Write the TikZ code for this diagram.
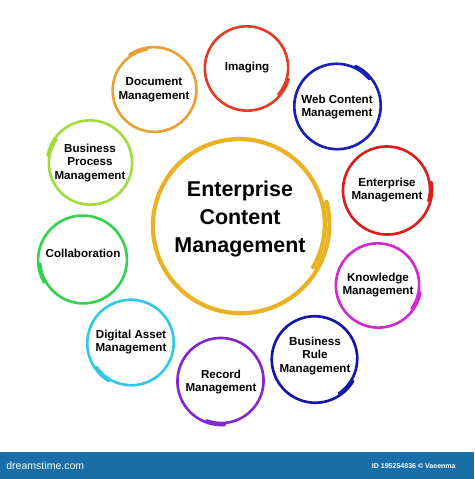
\documentclass[tikz,border=0pt]{standalone}
\usepackage{fontspec}
\setmainfont{Liberation Sans}
\usepackage{tikz}

\definecolor{ecmgold}{RGB}{234,178,34}
\definecolor{imgred}{RGB}{226,60,40}
\definecolor{docorange}{RGB}{234,160,50}
\definecolor{webblue}{RGB}{25,30,180}
\definecolor{bpgreen}{RGB}{160,220,60}
\definecolor{entred}{RGB}{218,30,30}
\definecolor{colgreen}{RGB}{50,210,80}
\definecolor{knowmag}{RGB}{210,40,210}
\definecolor{dacyan}{RGB}{50,200,225}
\definecolor{recpurple}{RGB}{130,40,210}
\definecolor{brblue}{RGB}{20,20,170}
\definecolor{barblue}{RGB}{25,110,168}

\tikzset{
  topic/.style={align=center, inner sep=0pt, font=\bfseries\fontsize{6.6}{7.9}\selectfont},
  maintopic/.style={align=center, inner sep=0pt, font=\bfseries\fontsize{12.2}{16.2}\selectfont},
  ringline/.style={line width=1.5pt, line cap=round},
}

% brush ring round a node: centre, radius, colour, start angle
\newcommand{\brushring}[4]{%
  \pgfmathsetmacro\ringend{#4+385}
  \draw[ringline, #3, shift={(#1)}] plot[domain=#4:\ringend, samples=90, smooth]
    (\x:{#2*(0.975+0.05*(\x-(#4))/385)});
}

\begin{document}
\begin{tikzpicture}[x=0.02cm, y=0.02cm]
  \useasboundingbox (0,0) rectangle (474,479);

  \node[maintopic] at (240,260) (ecm) {Enterprise\\Content\\Management};
  \node[topic] at (247,411) (img) {Imaging};
  \node[topic] at (154,389) (doc) {Document\\Management};
  \node[topic] at (337,372) (web) {Web Content\\Management};
  \node[topic] at (90,316) (bpm) {Business\\Process\\Management};
  \node[topic] at (387,289) (ent) {Enterprise\\Management};
  \node[topic] at (83,226) (col) {Collaboration};
  \node[topic] at (378,194) (know) {Knowledge\\Management};
  \node[topic] at (131,137) (dam) {Digital Asset\\Management};
  \node[topic] at (221,97) (rec) {Record\\Management};
  \node[topic] at (315,123) (rule) {Business\\Rule\\Management};

  \draw[line width=2.4pt, line cap=round, ecmgold, shift={(240,254)}]
    plot[domain=-30:375, samples=120, smooth] (\x:{87*(0.97+0.06*(\x+30)/405)});
  \brushring{247,411}{42}{imgred}{-40}
  \brushring{154,389}{42}{docorange}{100}
  \brushring{337,373}{43}{webblue}{40}
  \brushring{90,316}{42}{bpgreen}{145}
  \brushring{387,289}{44}{entred}{-15}
  \brushring{83,219}{44}{colgreen}{185}
  \brushring{378,194}{42}{knowmag}{-35}
  \brushring{131,136}{43}{dacyan}{215}
  \brushring{221,98}{43}{recpurple}{250}
  \brushring{315,120}{43}{brblue}{-55}

  % footer bar
  \fill[barblue] (0,0) rectangle (474,27);
  \node[anchor=west, white, inner sep=0pt, font=\fontsize{6}{7}\selectfont] at (6,13) (site) {dreamstime.com};
  \node[anchor=east, white, inner sep=0pt, font=\bfseries\fontsize{4}{5}\selectfont] at (456,13) (imgid) {ID 195254836 © Vaeenma};
\end{tikzpicture}
\end{document}
